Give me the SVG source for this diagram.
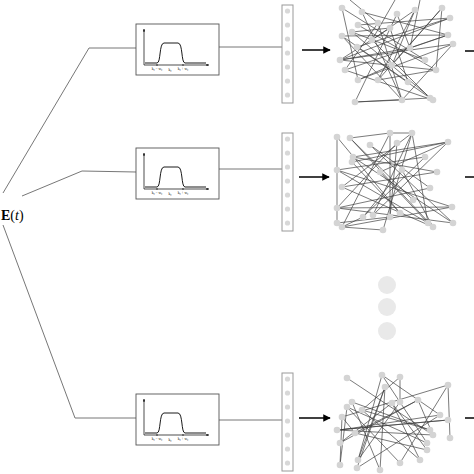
<svg xmlns="http://www.w3.org/2000/svg" width="474" height="474" viewBox="0 0 474 474">
<style>
.wire{fill:none;stroke:#777;stroke-width:1}
.box{fill:#fff;stroke:#555;stroke-width:0.9}
.axis{fill:none;stroke:#000;stroke-width:0.7}
.curve{fill:none;stroke:#000;stroke-width:0.9}
.tick{font-family:"Liberation Serif",serif;font-size:3.6px;fill:#000}
.vec{fill:#fff;stroke:#999;stroke-width:1}
.vdot{fill:#d8d8d8}
.edge{fill:none;stroke:#3a3a3a;stroke-width:0.8;stroke-opacity:0.85}
.nd{fill:#d4d4d4}
.arr{stroke:#000;stroke-width:1.5;fill:none}
.ell{fill:#e9e9e9}
.lbl{font-family:"Liberation Serif",serif;font-size:14px;fill:#000}
</style>
<defs>
<marker id="ah" viewBox="0 0 10 10" refX="9" refY="5" markerWidth="5" markerHeight="5" orient="auto" markerUnits="strokeWidth">
<path d="M0,0 L10,5 L0,10 z" fill="#000"/>
</marker>
<marker id="sa" viewBox="0 0 10 10" refX="9" refY="5" markerWidth="4" markerHeight="4" orient="auto" markerUnits="strokeWidth">
<path d="M0,1 L10,5 L0,9 z" fill="#000"/>
</marker>
<g id="filt">
<rect class="box" x="0" y="0" width="83" height="51"/>
<line class="axis" x1="8" y1="41" x2="8" y2="5" marker-end="url(#sa)"/>
<line class="axis" x1="8" y1="41" x2="73" y2="41" marker-end="url(#sa)"/>
<path class="curve" d="M9,39 L21,39 C25,39 23,19 28,19 L42,19 C47,19 45,39 49,39 L70,39"/>
<line class="axis" x1="21" y1="40" x2="21" y2="42"/>
<line class="axis" x1="47" y1="40" x2="47" y2="42"/>
<text class="tick" x="21" y="46" text-anchor="middle">k₀ − w₀</text>
<text class="tick" x="34" y="46.5" text-anchor="middle">k₀</text>
<text class="tick" x="47" y="46" text-anchor="middle">k₀ + w₀</text>
</g>
<g id="vecd">
<rect class="vec" x="0" y="0" width="11" height="98"/>
<circle class="vdot" cx="5.5" cy="6" r="2.6"/>
<circle class="vdot" cx="5.5" cy="20" r="2.6"/>
<circle class="vdot" cx="5.5" cy="34" r="2.6"/>
<circle class="vdot" cx="5.5" cy="48" r="2.6"/>
<circle class="vdot" cx="5.5" cy="62" r="2.6"/>
<circle class="vdot" cx="5.5" cy="76" r="2.6"/>
<circle class="vdot" cx="5.5" cy="90" r="2.6"/>
</g>
</defs>

<g id="input">
<text class="lbl" x="1" y="220"><tspan font-weight="bold">E</tspan>(<tspan font-style="italic">t</tspan>)</text>
</g>

<g id="connectors">
<polyline class="wire" points="3,193 89,48 136,48"/>
<polyline class="wire" points="22,196 82,171 136,172"/>
<polyline class="wire" points="3,225 75,418 136,418"/>
<line class="wire" x1="219" y1="47" x2="282" y2="47"/>
<line class="wire" x1="219" y1="169" x2="282" y2="169"/>
<line class="wire" x1="219" y1="420" x2="282" y2="420"/>
<line class="arr" x1="302" y1="50" x2="330" y2="50" marker-end="url(#ah)"/>
<line class="arr" x1="299" y1="177" x2="329" y2="177" marker-end="url(#ah)"/>
<line class="arr" x1="299" y1="418" x2="330" y2="418" marker-end="url(#ah)"/>
<line class="arr" x1="465" y1="51" x2="474" y2="51"/>
<line class="arr" x1="465" y1="177" x2="474" y2="177"/>
<line class="arr" x1="465" y1="418" x2="474" y2="418"/>
</g>

<g id="filter1"><use href="#filt" transform="translate(136,24)"/></g>
<g id="filter2"><use href="#filt" transform="translate(136,148)"/></g>
<g id="filter3"><use href="#filt" transform="translate(136,394)"/></g>

<g id="vector1"><use href="#vecd" transform="translate(282,5)"/></g>
<g id="vector2"><use href="#vecd" transform="translate(282,133)"/></g>
<g id="vector3"><use href="#vecd" transform="translate(282,373)"/></g>

<g id="network1">
<path class="edge" d="M342,8 L358,80 M358,25 L450,18 M352,32 L433,100 M342,36 L448,35 M378,23 L402,100 M397,14 L355,102 M415,10 L378,80 M450,18 L340,60 M442,8 L392,65 M448,35 L345,70 M453,44 L358,80 M410,48 L340,60 M357,47 L430,98 M340,60 L453,44 M345,70 L433,100 M378,80 L442,8 M402,100 L362,12 M355,102 L402,100 M408,82 L342,36 M372,40 L430,98 M390,28 L408,82 M425,60 L352,32 M392,65 L415,10 M436,70 L358,25 M362,12 L448,35 M397,14 L410,48 M378,23 L345,70 M342,8 L425,60 M357,47 L450,18 M352,32 L390,28 M436,70 L378,80 M355,102 L430,98 M340,60 L436,70 M372,40 L415,10 M402,100 L453,44 M410,48 L448,35 M358,80 L392,65 M342,36 L402,100 M442,8 L436,70 M390,28 L340,60 M350,0 L378,23 M395,0 L372,40 M420,0 L410,48"/>
<g class="nd">
<circle cx="342" cy="8" r="3.3"/><circle cx="358" cy="25" r="3.3"/><circle cx="352" cy="32" r="3.3"/><circle cx="342" cy="36" r="3.3"/><circle cx="378" cy="23" r="3.3"/><circle cx="397" cy="14" r="3.3"/><circle cx="415" cy="10" r="3.3"/><circle cx="450" cy="18" r="3.3"/><circle cx="442" cy="8" r="3.3"/><circle cx="448" cy="35" r="3.3"/><circle cx="453" cy="44" r="3.3"/><circle cx="410" cy="48" r="3.3"/><circle cx="357" cy="47" r="3.3"/><circle cx="340" cy="60" r="3.3"/><circle cx="345" cy="70" r="3.3"/><circle cx="378" cy="80" r="3.3"/><circle cx="358" cy="80" r="3.3"/><circle cx="430" cy="98" r="3.3"/><circle cx="433" cy="100" r="3.3"/><circle cx="402" cy="100" r="3.3"/><circle cx="355" cy="102" r="3.3"/><circle cx="408" cy="82" r="3.3"/><circle cx="372" cy="40" r="3.3"/><circle cx="390" cy="28" r="3.3"/><circle cx="425" cy="60" r="3.3"/><circle cx="392" cy="65" r="3.3"/><circle cx="362" cy="12" r="3.3"/><circle cx="436" cy="70" r="3.3"/>
</g>
</g>

<g id="network2">
<path class="edge" d="M337,137 L337,223 M350,138 L390,133 M350,138 L433,227 M390,133 L342,227 M412,133 L428,223 M412,133 L373,215 M448,142 L353,157 M448,142 L352,162 M448,142 L380,172 M370,145 L453,223 M397,143 L337,208 M353,157 L437,172 M352,162 L400,213 M425,157 L337,170 M337,170 L452,207 M437,172 L342,187 M380,172 L428,223 M402,170 L363,217 M342,187 L433,227 M430,188 L337,208 M337,208 L453,223 M452,207 L342,227 M337,223 L390,217 M342,227 L383,230 M383,230 L412,133 M390,217 L397,143 M373,215 L448,142 M413,200 L350,138 M400,213 L337,137 M363,217 L425,157 M337,170 L428,223 M342,187 L412,133 M353,157 L453,223 M390,133 L390,217 M402,170 L433,227 M430,188 L370,145 M337,208 L452,207 M342,227 L363,217 M390,133 L412,133"/>
<g class="nd">
<circle cx="337" cy="137" r="3.3"/><circle cx="350" cy="138" r="3.3"/><circle cx="390" cy="133" r="3.3"/><circle cx="412" cy="133" r="3.3"/><circle cx="448" cy="142" r="3.3"/><circle cx="370" cy="145" r="3.3"/><circle cx="397" cy="143" r="3.3"/><circle cx="353" cy="157" r="3.3"/><circle cx="352" cy="162" r="3.3"/><circle cx="425" cy="157" r="3.3"/><circle cx="337" cy="170" r="3.3"/><circle cx="437" cy="172" r="3.3"/><circle cx="380" cy="172" r="3.3"/><circle cx="402" cy="170" r="3.3"/><circle cx="342" cy="187" r="3.3"/><circle cx="430" cy="188" r="3.3"/><circle cx="337" cy="208" r="3.3"/><circle cx="452" cy="207" r="3.3"/><circle cx="337" cy="223" r="3.3"/><circle cx="342" cy="227" r="3.3"/><circle cx="383" cy="230" r="3.3"/><circle cx="428" cy="223" r="3.3"/><circle cx="433" cy="227" r="3.3"/><circle cx="453" cy="223" r="3.3"/><circle cx="390" cy="217" r="3.3"/><circle cx="373" cy="215" r="3.3"/><circle cx="413" cy="200" r="3.3"/><circle cx="400" cy="213" r="3.3"/><circle cx="363" cy="217" r="3.3"/>
</g>
</g>

<g id="network3">
<path class="edge" d="M347,378 L433,435 M382,375 L440,415 M400,377 L400,402 M448,385 L450,438 M448,385 L400,463 M385,387 L358,460 M385,387 L380,470 M418,400 L355,433 M352,402 L430,430 M392,403 L427,450 M347,407 L427,443 M362,410 L420,460 M342,417 L340,465 M337,430 L448,420 M337,430 L433,435 M440,415 L357,468 M430,430 L362,410 M340,443 L418,400 M355,433 L427,450 M358,460 L382,375 M380,470 L352,402 M400,463 L347,407 M420,460 L392,403 M342,417 L448,385 M418,400 L433,435 M355,433 L342,417 M400,377 L362,410 M448,420 L337,430 M340,465 L347,407 M382,375 L427,443 M357,468 L385,387 M400,402 L358,460 M392,403 L340,443 M440,415 L340,430"/>
<g class="nd">
<circle cx="347" cy="378" r="3.3"/><circle cx="382" cy="375" r="3.3"/><circle cx="400" cy="377" r="3.3"/><circle cx="448" cy="385" r="3.3"/><circle cx="385" cy="387" r="3.3"/><circle cx="418" cy="400" r="3.3"/><circle cx="352" cy="402" r="3.3"/><circle cx="392" cy="403" r="3.3"/><circle cx="347" cy="407" r="3.3"/><circle cx="362" cy="410" r="3.3"/><circle cx="342" cy="417" r="3.3"/><circle cx="448" cy="420" r="3.3"/><circle cx="440" cy="415" r="3.3"/><circle cx="337" cy="430" r="3.3"/><circle cx="430" cy="430" r="3.3"/><circle cx="433" cy="435" r="3.3"/><circle cx="450" cy="438" r="3.3"/><circle cx="427" cy="443" r="3.3"/><circle cx="340" cy="443" r="3.3"/><circle cx="427" cy="450" r="3.3"/><circle cx="358" cy="460" r="3.3"/><circle cx="420" cy="460" r="3.3"/><circle cx="340" cy="465" r="3.3"/><circle cx="357" cy="468" r="3.3"/><circle cx="380" cy="470" r="3.3"/><circle cx="400" cy="463" r="3.3"/><circle cx="355" cy="433" r="3.3"/><circle cx="400" cy="402" r="3.3"/>
</g>
</g>

<g id="ellipsis">
<circle class="ell" cx="387" cy="285" r="9"/>
<circle class="ell" cx="387" cy="307" r="9"/>
<circle class="ell" cx="387" cy="331" r="9"/>
</g>
</svg>
